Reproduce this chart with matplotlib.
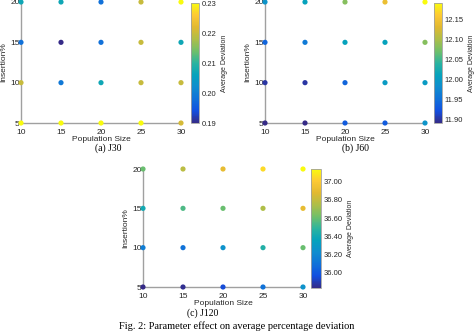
import numpy as np
import matplotlib; matplotlib.use('Agg')
import matplotlib.pyplot as plt
from matplotlib.colors import LinearSegmentedColormap

plt.rcParams['font.family'] = ['Liberation Sans', 'DejaVu Sans']

# parula-like colormap
PARULA = LinearSegmentedColormap.from_list('parula', [
    (0.00, (0.2081, 0.1663, 0.5292)),
    (0.10, (0.0704, 0.3120, 0.8780)),
    (0.20, (0.0648, 0.4443, 0.8503)),
    (0.30, (0.0616, 0.5527, 0.8106)),
    (0.40, (0.0249, 0.6367, 0.7378)),
    (0.50, (0.1713, 0.7052, 0.6232)),
    (0.60, (0.4420, 0.7490, 0.4120)),
    (0.70, (0.6833, 0.7449, 0.2850)),
    (0.80, (0.8834, 0.7246, 0.1918)),
    (0.90, (0.9926, 0.7893, 0.2053)),
    (1.00, (0.9763, 0.9831, 0.0538)),
])

pop_sizes = [10, 15, 20, 25, 30]
insertion = [5, 10, 15, 20]

# rows: insertion 5, 10, 15, 20 ; cols: population 10..30
dev_j30 = [
    [0.230, 0.230, 0.230, 0.230, 0.221],
    [0.220, 0.199, 0.207, 0.220, 0.220],
    [0.198, 0.190, 0.198, 0.220, 0.207],
    [0.207, 0.207, 0.198, 0.220, 0.230],
]
dev_j60 = [
    [11.89, 11.89, 11.93, 11.93, 11.99],
    [11.90, 11.90, 11.94, 12.00, 12.00],
    [11.94, 11.96, 12.01, 12.01, 12.08],
    [11.99, 12.01, 12.08, 12.14, 12.19],
]
dev_j120 = [
    [35.83, 35.85, 35.95, 36.10, 36.25],
    [36.15, 36.10, 36.25, 36.45, 36.60],
    [36.40, 36.55, 36.60, 36.75, 36.90],
    [36.60, 36.78, 36.90, 37.05, 37.14],
]

W, H = 474, 333
fig = plt.figure(figsize=(W / 100, H / 100), dpi=100)


def px(x0, y_top, w, h):
    return [x0 / W, 1 - (y_top + h) / H, w / W, h / H]


def panel(ax_rect, cb_rect, data, vmin, vmax, cticks, fmt, sub, sub_xy):
    ax = fig.add_axes(px(*ax_rect))
    X, Y = np.meshgrid(pop_sizes, insertion)
    sc = ax.scatter(X.ravel(), Y.ravel(), c=np.array(data).ravel(), cmap=PARULA,
                    vmin=vmin, vmax=vmax, s=14, clip_on=False, zorder=3, linewidths=0)
    ax.set_xlim(10, 30)
    ax.set_ylim(5, 20)
    ax.set_xticks(pop_sizes)
    ax.set_yticks(insertion)
    for s in ['top', 'right']:
        ax.spines[s].set_visible(False)
    for s in ['left', 'bottom']:
        ax.spines[s].set_color('#a0a0a0')
        ax.spines[s].set_linewidth(1.0)
    ax.tick_params(length=0, labelsize=6, colors='#262626')
    ax.tick_params(axis='x', pad=4)
    ax.tick_params(axis='y', pad=1)
    ax.set_xlabel('Population Size', fontsize=6, color='#262626', labelpad=0.5)
    ax.set_ylabel('Insertion%', fontsize=6, color='#262626', labelpad=2)

    cax = fig.add_axes(px(*cb_rect))
    cb = fig.colorbar(sc, cax=cax)
    cb.set_ticks(cticks)
    cb.ax.set_yticklabels([fmt % v for v in cticks])
    cb.ax.tick_params(length=0, labelsize=5.5, colors='#262626', pad=2)
    cb.outline.set_edgecolor('#a0a0a0')
    cb.outline.set_linewidth(0.6)
    cb.set_label('Average Deviation', fontsize=5, color='#262626', labelpad=3)

    fig.text(sub_xy[0] / W, 1 - sub_xy[1] / H, sub, fontsize=7,
             family=['Liberation Serif'], ha='center', va='center')


panel((21, 2, 160, 121), (191, 3, 8, 120), dev_j30, 0.19, 0.23,
      [0.19, 0.20, 0.21, 0.22, 0.23], '%.2f', '(a) J30', (108, 148))
panel((265, 2, 160, 121), (434, 3, 8, 120), dev_j60, 11.89, 12.19,
      [11.90, 11.95, 12.00, 12.05, 12.10, 12.15], '%.2f', '(b) J60', (355, 148))
panel((143, 169, 160, 118), (311, 169, 10, 119), dev_j120, 35.83, 37.14,
      [36.0, 36.2, 36.4, 36.6, 36.8, 37.0], '%.2f', '(c) J120', (203, 313))

fig.text(0.5, 1 - 326 / H, 'Fig. 2: Parameter effect on average percentage deviation',
         fontsize=7.5, family=['Liberation Serif'], ha='center', va='center')

fig.savefig('out.png', dpi=100)
